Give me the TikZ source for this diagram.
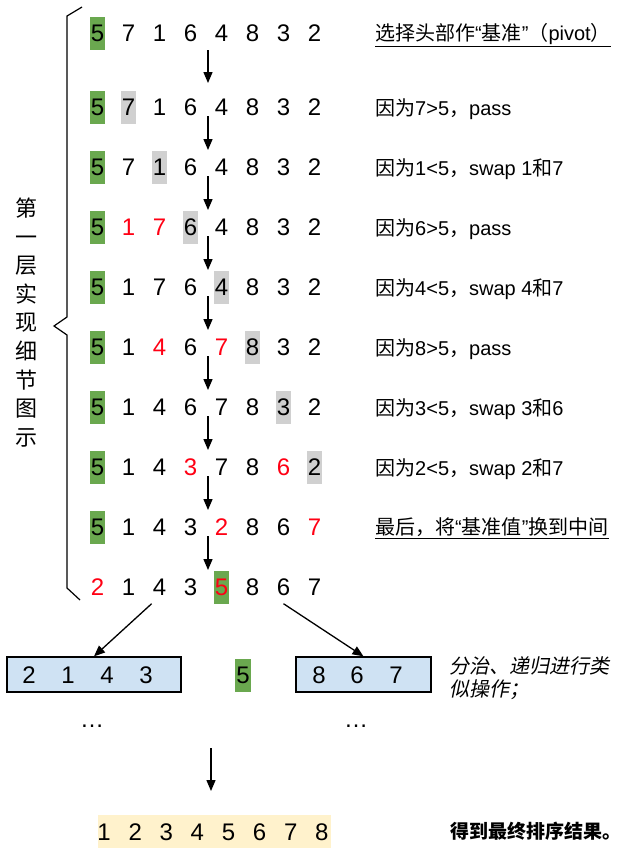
\documentclass[tikz,border=0pt]{standalone}
\usepackage{fontspec}
\setmainfont{Liberation Sans}
\newfontfamily\zh{Noto Sans CJK SC}
\newfontfamily\zhsl[FakeSlant=0.2]{Noto Sans CJK SC}
\usetikzlibrary{arrows.meta}
\definecolor{pivgreen}{RGB}{106, 168, 79}
\definecolor{curgray}{RGB}{208, 208, 208}
\definecolor{swapred}{RGB}{255, 0, 20}
\definecolor{boxblue}{RGB}{207, 226, 243}
\definecolor{sortyel}{RGB}{255, 242, 204}
\tikzset{
	num/.style = {font = \fontsize{24}{24}\selectfont, inner xsep = 1pt, inner ysep = 0pt, minimum height = 33pt},
	nrm/.style = {},
	pv/.style = {fill = pivgreen},
	cur/.style = {fill = curgray},
	hot/.style = {text = swapred},
	pvhot/.style = {fill = pivgreen, text = swapred},
	lbl/.style = {anchor = west, font = \fontsize{20}{24}\selectfont, inner sep = 0pt},
	arr/.style = {-{Triangle[length = 11pt, width = 9pt]}, line width = 1.3pt},
	part/.style = {draw, line width = 1.3pt, fill = boxblue, minimum width = 174pt, minimum height = 35pt}
}

\begin{document}
\begin{tikzpicture}[x = 1pt, y = -1pt]
			\useasboundingbox (0,0) rectangle (624,854);
			\fill[white] (0,0) rectangle (624,854);
			\foreach \row/\y/\lst in {
				1/33/{5/pv,7/nrm,1/nrm,6/nrm,4/nrm,8/nrm,3/nrm,2/nrm},
				2/107/{5/pv,7/cur,1/nrm,6/nrm,4/nrm,8/nrm,3/nrm,2/nrm},
				3/167/{5/pv,7/nrm,1/cur,6/nrm,4/nrm,8/nrm,3/nrm,2/nrm},
				4/227/{5/pv,1/hot,7/hot,6/cur,4/nrm,8/nrm,3/nrm,2/nrm},
				5/287/{5/pv,1/nrm,7/nrm,6/nrm,4/cur,8/nrm,3/nrm,2/nrm},
				6/347/{5/pv,1/nrm,4/hot,6/nrm,7/hot,8/cur,3/nrm,2/nrm},
				7/407/{5/pv,1/nrm,4/nrm,6/nrm,7/nrm,8/nrm,3/cur,2/nrm},
				8/467/{5/pv,1/nrm,4/nrm,3/hot,7/nrm,8/nrm,6/hot,2/cur},
				9/527/{5/pv,1/nrm,4/nrm,3/nrm,2/hot,8/nrm,6/nrm,7/hot},
				10/587/{2/hot,1/nrm,4/nrm,3/nrm,5/pvhot,8/nrm,6/nrm,7/nrm}}{
				\foreach \d/\s [count = \c] in \lst
					\node (r\row-\c) at (66.5+31*\c,\y) [num, \s] {\d};
				\coordinate (tl\row) at (208,\y+9);
				\coordinate (hd\row) at (208,\y-17);
			}
			\coordinate (tl1) at (208,50);
			\coordinate (hd2) at (208,83);
			\foreach \a [count = \b from 2] in {1,...,9}
				\draw[arr] (tl\a) -- (hd\b);
			\node (l1) at (375,35) [lbl] {\underline{{\zh 选择头部作}“{\zh 基准}”{\zh （}pivot{\zh ）}}};
			\node (l2) at (375,109) [lbl] {{\zh 因为}7>5{\zh ，}pass};
			\node (l3) at (375,169) [lbl] {{\zh 因为}1<5{\zh ，}swap 1{\zh 和}7};
			\node (l4) at (375,229) [lbl] {{\zh 因为}6>5{\zh ，}pass};
			\node (l5) at (375,289) [lbl] {{\zh 因为}4<5{\zh ，}swap 4{\zh 和}7};
			\node (l6) at (375,349) [lbl] {{\zh 因为}8>5{\zh ，}pass};
			\node (l7) at (375,409) [lbl] {{\zh 因为}3<5{\zh ，}swap 3{\zh 和}6};
			\node (l8) at (375,469) [lbl] {{\zh 因为}2<5{\zh ，}swap 2{\zh 和}7};
			\node (l9) at (375,528) [lbl] {\underline{{\zh 最后，将}“{\zh 基准值}”{\zh 换到中间}}};
			\draw[line width = 1.2pt] (82,7) -- (67,16) -- (67,317) -- (54,326) -- (67,335) -- (67,588) -- (80,600);
			\node (title) at (27,322.5) [align = center, inner sep = 0pt, font = \zh\fontsize{22}{28.6}\selectfont] {第\\一\\层\\实\\现\\细\\节\\图\\示};
			\node (lbox) at (94,674.5) [part] {};
			\node (rbox) at (363.5,674.5) [part, minimum width = 135pt] {};
			\foreach \d/\x [count = \c] in {2/29,1/68,4/107,3/146}
				\node (lb\c) at (\x,675) [num] {\d};
			\foreach \d/\x [count = \c] in {8/319,6/357,7/396}
				\node (rb\c) at (\x,675) [num] {\d};
			\node (mid) at (243,675.5) [num, pv] {5};
			\draw[arr] (r10-3.south west) -- (lbox.north);
			\draw[arr] (r10-7.south) -- (rbox.north);
			\node (note) at (449,656) [anchor = north west, align = left, inner sep = 0pt, font = \zhsl\fontsize{20}{23}\selectfont] {分治、递归进行类\\似操作；};
			\node (ldots) at (92,727) [anchor = base, font = \fontsize{24}{24}\selectfont] {…};
			\node (rdots) at (356,727) [anchor = base, font = \fontsize{24}{24}\selectfont] {…};
			\coordinate (dtop) at (211,748);
			\coordinate (dbot) at (211,791);
			\draw[arr] (dtop) -- (dbot);
			\node (band) at (214.5,831.5) [fill = sortyel, minimum width = 233pt, minimum height = 33pt, inner sep = 0pt] {};
			\foreach \d [count = \c] in {1,...,8}
				\node (s\c) at (73+31.1*\c,832) [num] {\d};
			\node (done) at (450,831) [anchor = west, inner sep = 0pt, font = \zh\bfseries\fontsize{19}{19}\selectfont] {得到最终排序结果。};
\end{tikzpicture}
\end{document}
